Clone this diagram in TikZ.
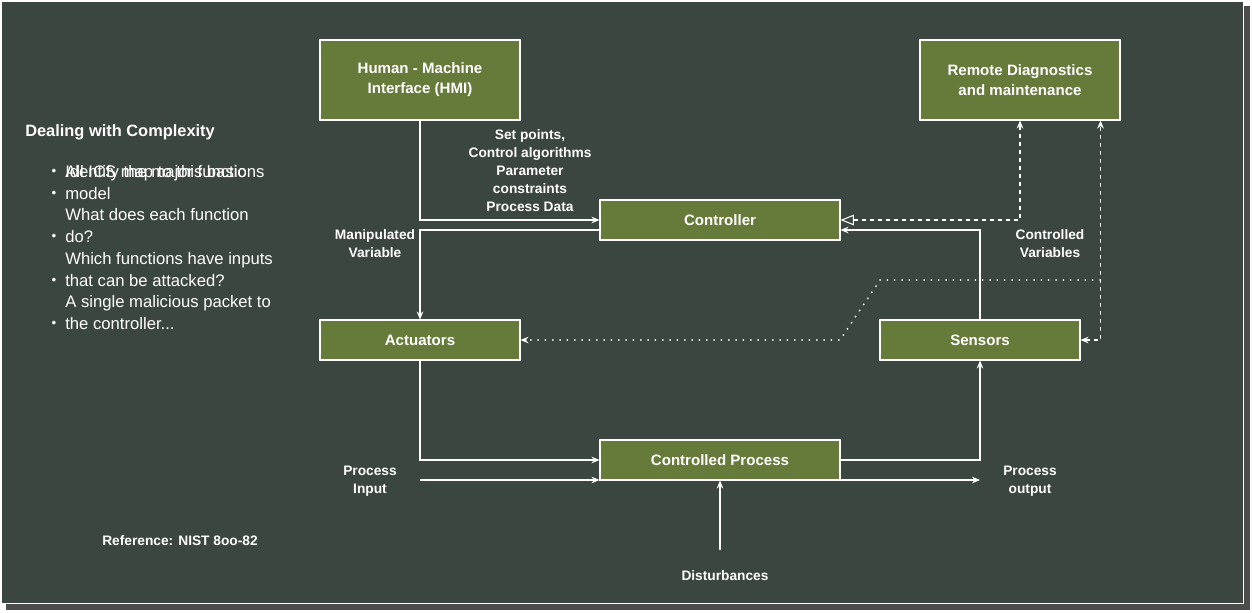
\documentclass[tikz,border=0pt]{standalone}
\usepackage{fontspec}
\setmainfont{Liberation Sans}
\usetikzlibrary{arrows.meta}
\definecolor{bg}{HTML}{3B4640}
\definecolor{box}{HTML}{667A3A}
\begin{document}
\begin{tikzpicture}[x=0.75pt,y=-0.75pt,
  blk/.style={draw=white,fill=box,text=white,font=\bfseries\fontsize{11.3}{15}\selectfont,align=center,inner sep=0pt,line width=0.8pt},
  lbl/.style={text=white,font=\bfseries\fontsize{10.3}{13.5}\selectfont,align=center},
  ar/.style={draw=white,line width=0.8pt,-{Stealth[length=6pt,width=5pt]}},
  da/.style={ar,dashed},
  dt/.style={ar,line width=1.5pt,line cap=round,dash pattern=on 0pt off 5.5pt},
  bul/.style={text=white,font=\fontsize{12.5}{16.2}\selectfont,anchor=north west,align=left,inner sep=0pt}]
\useasboundingbox (0,0) rectangle (1252,612);
\fill[black!70] (6,6) rectangle (1250,610);
\draw[fill=bg,draw=white!80] (1,1) rectangle (1243,603);
\node[blk,minimum width=200*0.75pt,minimum height=80*0.75pt] (hmi) at (420,80) {Human - Machine\\Interface (HMI)};
\node[blk,minimum width=200*0.75pt,minimum height=80*0.75pt] (rem) at (1020,80) {Remote Diagnostics\\and maintenance};
\node[blk,minimum width=240*0.75pt,minimum height=40*0.75pt] (ctl) at (720,220) {Controller};
\node[blk,minimum width=200*0.75pt,minimum height=40*0.75pt] (act) at (420,340) {Actuators};
\node[blk,minimum width=200*0.75pt,minimum height=40*0.75pt] (sen) at (980,340) {Sensors};
\node[blk,minimum width=240*0.75pt,minimum height=40*0.75pt] (pro) at (720,460) {Controlled Process};
\coordinate (dist) at (720,550);
\coordinate (pin) at (420,480);
\coordinate (pout) at (980,480);
\draw[ar] (hmi.south) |- (ctl.west);
\draw[ar] ([yshift=-10*0.75pt]ctl.west) -| (act.north);
\draw[ar] (sen.north) |- ([yshift=-10*0.75pt]ctl.east);
\draw[da,{Triangle[open,length=10pt,width=8pt]}-{Stealth[length=6pt,width=5pt]}] (ctl.east) -| (rem.south);
\draw[da,{Stealth[length=6pt,width=5pt]}-{Stealth[length=6pt,width=5pt]}] (sen.east) -| ([xshift=-20*0.75pt]rem.south east);
\draw[dt] (1100,280) -- (880,280) -- (840,340) -- (act.east);
\draw[ar] (act.south) |- (pro.west);
\draw[ar] (pro.east) -| (sen.south);
\draw[ar] (pin) -- ([yshift=-20*0.75pt]pro.west);
\draw[ar] ([yshift=-20*0.75pt]pro.east) -- (pout);
\draw[ar] (dist) -- (pro.south);
\node[lbl] (sp) at (530,171) {Set points,\\Control algorithms\\Parameter\\constraints\\Process Data};
\node[lbl] (mv) at (375,244) {Manipulated\\Variable};
\node[lbl] (cv) at (1050,244) {Controlled\\Variables};
\node[lbl] (pi) at (370,481) {Process\\Input};
\node[lbl] (po) at (1030,481) {Process\\output};
\node[lbl] (di) at (725,576) {Disturbances};
\node[lbl] (ref) at (180,541) {Reference: NIST 8oo-82};
\node[text=white,font=\bfseries\fontsize{12.3}{14}\selectfont,anchor=west,inner sep=0pt] (dc) at (25,132) {Dealing with Complexity};
\foreach \t/\y [count=\i] in {{Identify the major functions}/171,{All ICS map to this basic\\model}/193,{What does each function\\do?}/236,{Which functions have inputs\\that can be attacked?}/280,{A single malicious packet to\\the controller...}/323}{
  \node[bul,anchor=base west] (b\i) at (65,\y+6) {\t};
  \node[text=white,font=\fontsize{10}{12}\selectfont,inner sep=0pt] (d\i) at (54,\y+1) {\textbullet};
}
\end{tikzpicture}
\end{document}
